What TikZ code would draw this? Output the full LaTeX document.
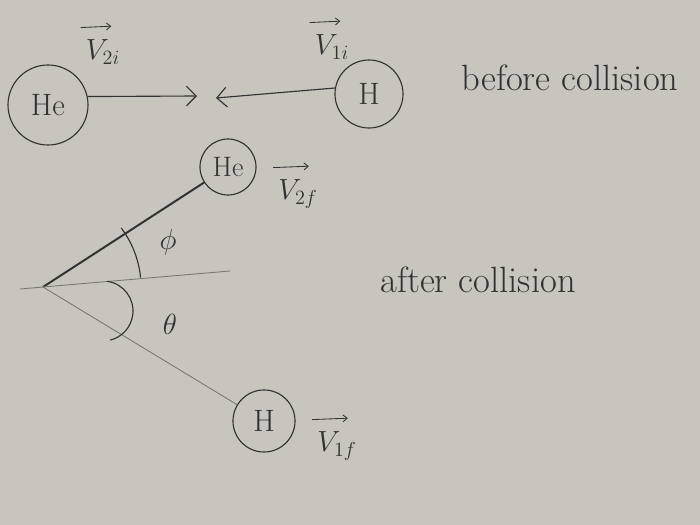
\documentclass[tikz,border=0pt]{standalone}
\usepackage{tikz}
\usetikzlibrary{arrows.meta}
\definecolor{paper}{RGB}{200,196,190}
\definecolor{pencil}{RGB}{50,50,50}
\definecolor{faint}{RGB}{120,118,115}
\begin{document}
\begin{tikzpicture}[x=0.025cm,y=-0.025cm,thick,
  part/.style={draw=pencil,circle,inner sep=0pt,text=pencil,font=\fontsize{22}{26}\selectfont},
  lbl/.style={text=pencil,font=\fontsize{20}{24}\selectfont},
  note/.style={text=pencil,font=\fontsize{26}{30}\selectfont},
  vecmark/.style={draw=pencil,semithick,-{Straight Barb[length=3pt,width=5pt]}},
  vel/.style={draw=pencil,-{Straight Barb[length=7pt,width=14pt]}}]
  \fill[paper] (0,0) rectangle (700,525);
  \node[part,minimum size=2cm] (he1) at (48,105) {He};
  \node[part,minimum size=1.7cm] (h1) at (369,94) {H};
  \coordinate (tipA) at (197,96);
  \coordinate (tipB) at (216,98);
  \draw[vel] (he1.12) -- (tipA);
  \draw[vel] (h1.170) -- (tipB);
  \node[lbl] (v2i) at (103,52) {$V_{2i}$};
  \node[lbl] (v1i) at (332,47) {$V_{1i}$};
  \node[note] (before) at (570,78) {before collision};
  \coordinate (o) at (43,287);
  \coordinate (ref0) at (20,289);
  \coordinate (ref1) at (230,271);
  \node[part,minimum size=1.4cm,font=\fontsize{20}{24}\selectfont] (he2) at (228,167) {He};
  \node[part,minimum size=1.55cm] (h2) at (264,421) {H};
  \draw[pencil,line width=1.4pt] (o) -- (he2);
  \draw[faint,semithick] (o) -- (h2);
  \draw[faint,semithick] (ref0) -- (ref1);
  \draw[pencil] (o) ++(-37:98) arc[start angle=-37,end angle=-5.5,radius=98];
  \draw[pencil] (103,311) ++(-82:30) arc[start angle=-82,end angle=76,radius=30];
  \node[lbl] (phi) at (168,242) {$\phi$};
  \node[lbl] (theta) at (170,324) {$\theta$};
  \node[lbl] (v2f) at (298,194) {$V_{2f}$};
  \node[lbl] (v1f) at (337,446) {$V_{1f}$};
  \node[note] (after) at (478,280) {after collision};
  \foreach \v in {v2i,v1i,v2f,v1f}
    \draw[vecmark] ([xshift=0pt,yshift=5pt]\v.north west) -- ([xshift=-10pt,yshift=6pt]\v.north east);
\end{tikzpicture}
\end{document}
